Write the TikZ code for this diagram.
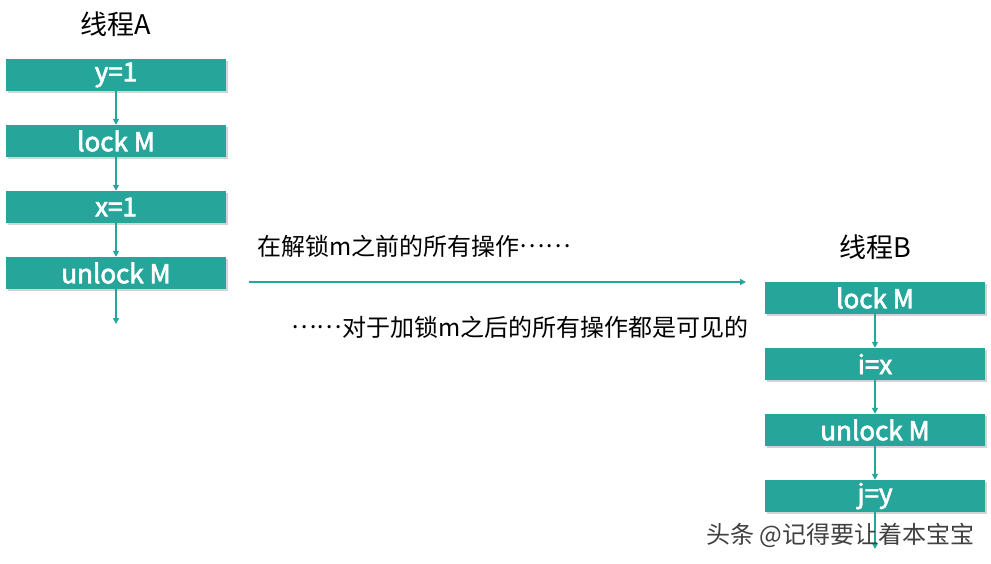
\documentclass[tikz,border=0pt]{standalone}
\usepackage{fontspec}
\setmainfont{Noto Sans CJK SC}
\newfontfamily\stmtfont{Noto Sans CJK SC}[FakeBold=2.5]
\usepackage{tikz}
\usetikzlibrary{shadows}
\usetikzlibrary{arrows.meta}
\definecolor{teal}{HTML}{26A69A}
\newcommand{\dotsmid}{\raisebox{0.32em}{……}}
\tikzstyle{stmt}=[rectangle,fill=teal,minimum width=220pt,minimum height=32pt,inner sep=0pt,text=white,font=\stmtfont\fontsize{26}{27}\selectfont,drop shadow={shadow xshift=1.5pt,shadow yshift=-2pt,opacity=0.35}]
\tikzstyle{flow} = [draw,teal,line width=1.6pt,-{Triangle[length=6pt,width=6pt]}]
\tikzstyle{title} = [font=\fontsize{27}{28}\selectfont]
\tikzstyle{note} = [font=\fontsize{24}{26}\selectfont]

\begin{document}
\begin{tikzpicture}[x=1pt,y=-1pt]
    \useasboundingbox (0,0) rectangle (991,563);
    % Thread A
    \node[title] (ta) at (116,24) {线程A};
    \foreach \pos/\name/\txt in {{(116,75)/a1/y=1},{(116,141)/a2/lock M},{(116,207)/a3/x=1},{(116,273)/a4/unlock M}}
        \node[stmt] (\name) at \pos {\txt};
    \coordinate (aend) at (116,324);

    % Connect the statements of thread A
    \foreach \source/ \dest in {a1/a2, a2/a3, a3/a4}
        \path[flow] (\source) -- (\dest);
    \path[flow] (a4) -- (aend);

    % Thread B
    \node[title] (tb) at (875,247) {线程B};
    \foreach \pos/\name/\txt in {{(875,298)/b1/lock M},{(875,364)/b2/i=x},{(875,430)/b3/unlock M},{(875,496)/b4/j=y}}
        \node[stmt] (\name) at \pos {\txt};
    \coordinate (bend) at (875,549);

    % Connect the statements of thread B
    \foreach \source/ \dest in {b1/b2, b2/b3, b3/b4}
        \path[flow] (\source) -- (\dest);
    \path[flow] (b4) -- (bend);

    % happens-before arrow
    \coordinate (hbs) at (249,282);
    \coordinate (hbe) at (746,282);
    \path[flow] (hbs) -- (hbe);
    \node[note,anchor=west] (before) at (254,246) {在解锁m之前的所有操作\dotsmid};
    \node[note,anchor=east] (after) at (752,327) {\dotsmid 对于加锁m之后的所有操作都是可见的};

    \node[note,anchor=east,text=black!75] (mark) at (978,535) {头条 @记得要让着本宝宝};
\end{tikzpicture}
\end{document}
